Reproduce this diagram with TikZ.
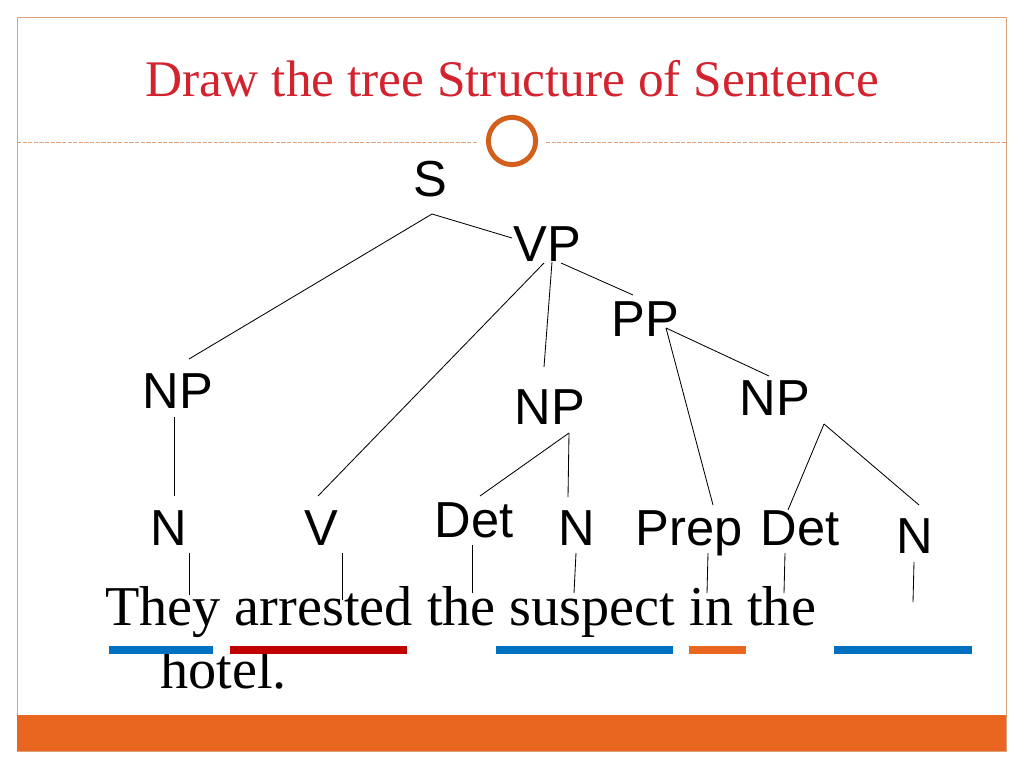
\documentclass[tikz,border=0pt]{standalone}
\usepackage{fontspec}
\setmainfont{Liberation Serif}
\setsansfont{Liberation Sans}
\usepackage{tikz}
\usetikzlibrary{positioning}
\definecolor{titlered}{HTML}{D2232E}
\definecolor{frameline}{HTML}{DDA27C}
\definecolor{ringorange}{HTML}{D2601C}
\definecolor{barorange}{HTML}{E8661F}
\definecolor{wordblue}{HTML}{0070C0}
\definecolor{wordred}{HTML}{C00000}
\tikzstyle{cat} = [font=\sffamily\fontsize{36}{43}\selectfont, anchor=base, inner sep=0pt]
\tikzstyle{branch} = [draw, line width=0.6pt]
\tikzstyle{bar} = [draw, line width=0.2cm]
\tikzstyle{words} = [anchor=base west, inner sep=0pt, font=\fontsize{40}{48}\selectfont]

\begin{document}
\begin{tikzpicture}[x=0.025cm, y=-0.025cm]
	\useasboundingbox (0,0) rectangle (1024,768);
	
	% slide frame
	\draw [frameline, line width=0.6pt] (17,17) rectangle (1006,751);
	\fill [barorange] (17,715) rectangle (1006,751);
	\draw [frameline, line width=0.6pt, dash pattern=on 3pt off 1pt] (17,142) -- (478,142);
	\draw [frameline, line width=0.6pt, dash pattern=on 3pt off 1pt] (546,142) -- (1006,142);
	\node [draw=ringorange, line width=3.5pt, circle, minimum size=1.18cm, inner sep=0pt] (ring) at (512,141) {};
	
	\node [anchor=base, text=titlered, font=\fontsize{36.5}{44}\selectfont] (title) at (512,97) {Draw the tree Structure of Sentence};
	
	% categories
	\node [cat] (S) at (430,196) {S};
	\node [cat] (VP) at (547,261) {VP};
	\node [cat] (PP) at (645,336) {PP};
	\node [cat] (NPa) at (178,408) {NP};
	\node [cat] (NPb) at (550,424) {NP};
	\node [cat] (NPc) at (775,415) {NP};
	\node [cat] (Na) at (169,545) {N};
	\node [cat] (V) at (321,545) {V};
	\node [cat] (Deta) at (474,537) {Det};
	\node [cat] (Nb) at (577,545) {N};
	\node [cat] (Prep) at (689,545) {Prep};
	\node [cat] (Detb) at (800,545) {Det};
	\node [cat] (Nc) at (915,553) {N};
	
	% branch ends
	\coordinate (S-foot) at (432,214);
	\coordinate (VP-head) at (512,238);
	\coordinate (NPa-head) at (189,359);
	\coordinate (NPa-foot) at (174,417);
	\coordinate (Na-head) at (174,496);
	\coordinate (VP-footl) at (544,263);
	\coordinate (VP-footm) at (552,262);
	\coordinate (VP-footr) at (561,263);
	\coordinate (V-head) at (318,496);
	\coordinate (NPb-head) at (544,367);
	\coordinate (PP-head) at (633,295);
	\coordinate (PP-foot) at (666,328);
	\coordinate (NPc-head) at (769,376);
	\coordinate (Prep-head) at (713,505);
	\coordinate (NPb-foot) at (569,433);
	\coordinate (Deta-head) at (480,496);
	\coordinate (Nb-head) at (568,497);
	\coordinate (NPc-foot) at (824,424);
	\coordinate (Detb-head) at (788,510);
	\coordinate (Nc-head) at (919,505);
	
	% Draw edges
	\path [branch] (S-foot) -- (VP-head);
	\path [branch] (S-foot) -- (NPa-head);
	\path [branch] (NPa-foot) -- (Na-head);
	\path [branch] (VP-footl) -- (V-head);
	\path [branch] (VP-footm) -- (NPb-head);
	\path [branch] (VP-footr) -- (PP-head);
	\path [branch] (PP-foot) -- (NPc-head);
	\path [branch] (PP-foot) -- (Prep-head);
	\path [branch] (NPb-foot) -- (Deta-head);
	\path [branch] (NPb-foot) -- (Nb-head);
	\path [branch] (NPc-foot) -- (Detb-head);
	\path [branch] (NPc-foot) -- (Nc-head);
	
	% sentence
	\node [words] (line1) at (105,625) {They arrested the suspect in the};
	\node [words] (line2) at (160,688) {hotel.};
	
	% leaves down to the words
	\coordinate (Na-leaf) at (189,553);   \coordinate (Na-word) at (189,595);
	\coordinate (V-leaf) at (342,553);    \coordinate (V-word) at (342,600);
	\coordinate (Deta-leaf) at (472,545); \coordinate (Deta-word) at (472,593);
	\coordinate (Nb-leaf) at (576,553);   \coordinate (Nb-word) at (574,593);
	\coordinate (Prep-leaf) at (708,553); \coordinate (Prep-word) at (707,593);
	\coordinate (Detb-leaf) at (785,553); \coordinate (Detb-word) at (784,593);
	\coordinate (Nc-leaf) at (914,562);   \coordinate (Nc-word) at (913,602);
	\foreach \w in {Na,V,Deta,Nb,Prep,Detb,Nc}
		\path [branch] (\w-leaf) -- (\w-word);
	
	% word bars
	\path [bar, wordblue] (109,650) -- (213,650);
	\path [bar, wordred] (230,650) -- (407,650);
	\path [bar, wordblue] (496,650) -- (673,650);
	\path [bar, barorange] (689,650) -- (746,650);
	\path [bar, wordblue] (834,650) -- (972,650);
	
\end{tikzpicture}
\end{document}
